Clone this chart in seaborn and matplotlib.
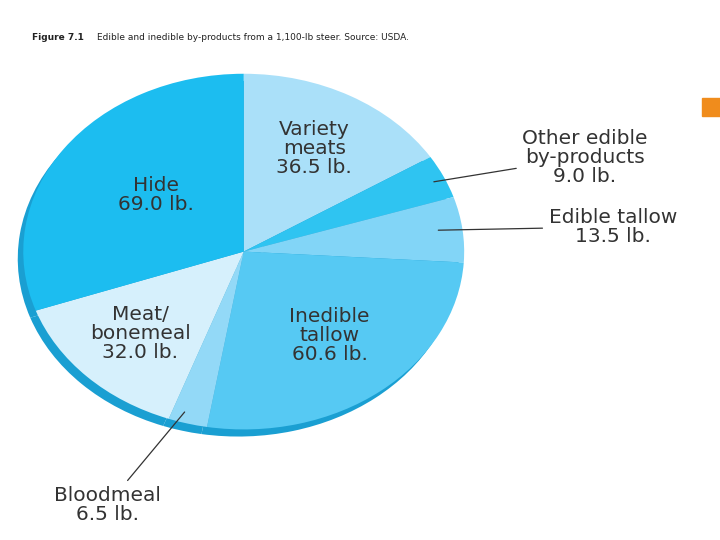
import matplotlib
matplotlib.use("Agg")
import matplotlib.pyplot as plt
import seaborn as sns

sns.set_theme(style="white")
plt.rcParams['font.family'] = ['DejaVu Sans']

categories = ["Variety meats", "Other edible by-products", "Edible tallow",
              "Inedible tallow", "Bloodmeal", "Meat/bonemeal", "Hide"]
values = [36.5, 9.0, 13.5, 60.6, 6.5, 32.0, 69.0]
labels = ["Variety\nmeats\n36.5 lb.", "Other edible\nby-products\n9.0 lb.",
          "Edible tallow\n13.5 lb.", "Inedible\ntallow\n60.6 lb.",
          "Bloodmeal\n6.5 lb.", "Meat/\nbonemeal\n32.0 lb.", "Hide\n69.0 lb."]
colors = ["#aae0f9", "#2fc4f1", "#82d5f7", "#56c9f3", "#93d9f7", "#d6f0fc", "#1cbdf0"]

fig = plt.figure(figsize=(7.2, 5.4), dpi=100)
ax = fig.add_axes([0.017, 0.185, 0.643, 0.685])
# shadow
ax.pie(values, colors=["#1a9fd2"] * len(values), startangle=90, counterclock=False,
       radius=1, center=(-0.025, -0.04), wedgeprops=dict(linewidth=0))
ax.pie(values, colors=colors, startangle=90, counterclock=False, radius=1,
       wedgeprops=dict(linewidth=0))
ax.set_xlim(-1.05, 1.05)
ax.set_ylim(-1.06, 1.02)
ax.set_aspect('auto')
ax.axis('off')

fs = 14.5
tc = "#333333"
inside = {0: (0.32, 0.58), 3: (0.39, -0.47), 5: (-0.47, -0.46), 6: (-0.40, 0.32)}
for i, (x, y) in inside.items():
    ax.text(x, y, labels[i], ha='center', va='center', fontsize=fs, color=tc, linespacing=1.0)

outside = {1: ((0.85, 0.39), (0.8125, 0.709)),
           2: ((0.87, 0.12), (0.851, 0.58)),
           4: ((-0.26, -0.89), (0.149, 0.065))}
for i, (xy, xyt) in outside.items():
    ax.annotate(labels[i], xy=xy, xycoords='data', xytext=xyt, textcoords='figure fraction',
                ha='center', va='center', fontsize=fs, color=tc, linespacing=1.0,
                arrowprops=dict(arrowstyle='-', color='#333333', lw=0.9))

fig.text(0.044, 0.926, "Figure 7.1", fontsize=6.5, fontweight='bold', color='#222222')
fig.text(0.135, 0.926, "Edible and inedible by-products from a 1,100-lb steer. Source: USDA.",
         fontsize=6.5, color='#222222')
fig.patches.append(plt.Rectangle((0.975, 0.785), 0.025, 0.033, transform=fig.transFigure,
                                 color="#f08c1c", figure=fig))
fig.savefig("out.png", dpi=100)
